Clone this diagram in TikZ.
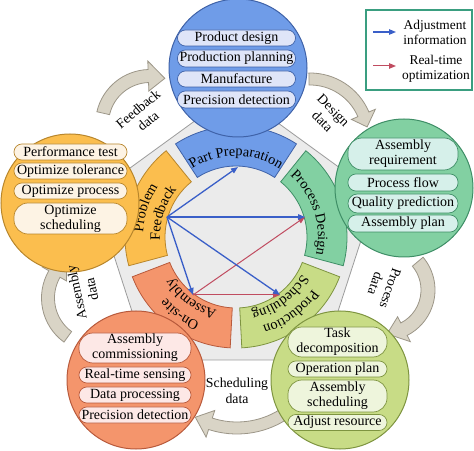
\documentclass[tikz,border=0pt]{standalone}
\usepackage{fontspec}
\setmainfont{Liberation Serif}
\usetikzlibrary{arrows.meta,decorations.text}
\definecolor{blueC}{HTML}{6F9CE8}
\definecolor{blueD}{HTML}{3F62A8}
\definecolor{blueP}{HTML}{DFE5F8}
\definecolor{greenC}{HTML}{82D0A2}
\definecolor{greenD}{HTML}{3E8E66}
\definecolor{greenP}{HTML}{D6F0EA}
\definecolor{ygC}{HTML}{C8DC86}
\definecolor{ygD}{HTML}{7E9440}
\definecolor{ygP}{HTML}{EEF5DC}
\definecolor{orC}{HTML}{F4956C}
\definecolor{orD}{HTML}{B85A3C}
\definecolor{orP}{HTML}{FDE8E6}
\definecolor{yeC}{HTML}{FBBE4E}
\definecolor{yeD}{HTML}{B8862C}
\definecolor{yeP}{HTML}{FDF3E4}
\definecolor{grayF}{HTML}{EBEBEB}
\definecolor{grayD}{HTML}{9C9C9C}
\definecolor{arrF}{HTML}{D9D4C6}
\definecolor{arrD}{HTML}{9C9688}
\definecolor{legD}{HTML}{3A9E80}
\definecolor{blueA}{HTML}{3A5FC8}
\definecolor{redA}{HTML}{C04C60}
\newcommand{\segfont}{\fontsize{14.3}{14.3}\selectfont}
\newcommand{\pillfont}{\fontsize{14}{15}\selectfont}
% #1 center, #2 R, #3 start, #4 head base, #5 tip, #6 half body, #7 half head
\newcommand{\myCurvArrow}[7]{%
  \filldraw[blockarr, shift={(#1)}] (#3:{#2+#6}) arc[start angle=#3, end angle=#4, radius={(#2+#6)*1pt}]
    -- (#4:{#2+#7}) -- (#5:#2) -- (#4:{#2-#7}) -- (#4:{#2-#6})
    arc[start angle=#4, end angle=#3, radius={(#2-#6)*1pt}] -- cycle;}
\newcommand{\mySeg}[3]{%
  \filldraw[fill=#3C, draw=#3D, line width=0.8pt, shift={(236,213)}]
    (#1:71) arc[start angle=#1, end angle=#2, radius=71pt] -- (#2:111)
    arc[start angle=#2, end angle=#1, radius=111pt] -- cycle;}
\newcommand{\mySegText}[4]{%
  \path[shift={(236,213)}, decorate, decoration={text along path, text align=center, text={|\segfont|#4}}]
    (#1:#3) arc[start angle=#1, end angle=#2, radius=#3pt];}
\begin{document}
\begin{tikzpicture}[x=1pt,y=1pt,
  blockarr/.style={fill=arrF, draw=arrD, line width=0.8pt},
  bigcirc/.style={circle, inner sep=0pt, minimum size=138pt, line width=1pt},
  pill/.style={rectangle, inner xsep=0pt, inner ysep=1pt, align=center, font=\pillfont, line width=0.7pt, rounded corners=7.9pt, minimum height=16pt},
  pilltwo/.style={pill, rounded corners=14pt},
  lbl/.style={align=center, font=\fontsize{13.8}{15.5}\selectfont, inner sep=0pt},
  legtxt/.style={align=center, font=\fontsize{13.4}{15}\selectfont, inner sep=0pt},
  bluearr/.style={draw=blueA, line width=1.3pt, -{Triangle[length=7pt,width=5.5pt]}},
  redarr/.style={draw=redA, line width=1pt, -{Triangle[length=7pt,width=5.5pt]}}]
\fill[white] (0,0) rectangle (474,450);
\useasboundingbox (0,0) rectangle (474,450);

% curved block arrows
\myCurvArrow{150,326}{48}{167}{92}{72}{6.5}{15}
\myCurvArrow{310,313}{58}{91}{23}{10}{6}{13}
\myCurvArrow{384,160}{44}{40}{-63}{-86}{7}{14}
\myCurvArrow{237,108}{86}{-58}{-108}{-119}{6}{14}
\myCurvArrow{96,152}{48}{234}{150}{128}{6.5}{14}

% pentagon
\filldraw[fill=grayF, draw=grayD, line width=0.8pt] (235,358.3) -- (94,255.8) -- (147.8,90) -- (322.2,90) -- (376,255.8) -- cycle;

% ring segments
\mySeg{57}{123}{blue}
\mySeg{-15}{51}{green}
\mySeg{-87}{-21}{yg}
\mySeg{-159}{-93}{or}
\mySeg{129}{195}{ye}

\mySegText{123}{57}{81}{Part Preparation}
\mySegText{51}{-15}{82}{Process Design}
\mySegText{-21}{-87}{93}{Production}
\mySegText{-21}{-87}{76}{Scheduling}
\mySegText{-93}{-159}{93}{On-site}
\mySegText{-93}{-159}{76}{Assembly}
\mySegText{195}{129}{93}{Problem}
\mySegText{195}{129}{76}{Feedback}

% central arrows
\coordinate (pf) at (167,233);
\coordinate (pp) at (238,283);
\coordinate (pd) at (305,233);
\coordinate (ps) at (280,155);
\coordinate (os) at (193,155);
\draw[redarr] (os) -- (pd);
\draw[redarr] (os) -- (ps);
\draw[bluearr] (pf) -- (pp);
\draw[bluearr] (pf) -- (pd);
\draw[bluearr] (pf) -- (ps);
\draw[bluearr] (pf) -- (os);

% circles
\node[bigcirc, fill=blueC, draw=blueD] (cblue) at (238,382) {};
\node[bigcirc, fill=greenC, draw=greenD] (cgreen) at (404,262) {};
\node[bigcirc, fill=ygC, draw=ygD] (cyg) at (340,70) {};
\node[bigcirc, fill=orC, draw=orD] (cor) at (136,70) {};
\node[bigcirc, fill=yeC, draw=yeD] (cye) at (70,247) {};

% blue pills
\begin{scope}[every node/.append style={fill=blueP, draw=blueD, minimum width=118pt}]
\node[pill] (bp1) at (236.5,412) {Product design};
\node[pill, minimum height=17pt] (bp2) at (236.5,391.5) {Production planning};
\node[pill] (bp3) at (236.5,371) {Manufacture};
\node[pill, minimum height=17pt] (bp4) at (236.5,350.5) {Precision detection};
\end{scope}
% green pills
\begin{scope}[every node/.append style={fill=greenP, draw=greenD, minimum width=110pt}]
\node[pilltwo, minimum height=32pt] (gp1) at (403,296) {Assembly\\requirement};
\node[pill, minimum height=17pt] (gp2) at (403,267.5) {Process flow};
\node[pill, minimum height=19pt, rounded corners=9.4pt] (gp3) at (403,246.5) {Quality prediction};
\node[pill, minimum height=17pt] (gp4) at (403,226.5) {Assembly plan};
\end{scope}
% yellow-green pills
\begin{scope}[every node/.append style={fill=ygP, draw=ygD, minimum width=99pt}]
\node[pilltwo, minimum height=30pt] (yp1) at (337.5,108) {Task\\decomposition};
\node[pill] (yp2) at (337.5,81) {Operation plan};
\node[pilltwo, minimum height=32pt] (yp3) at (337.5,54) {Assembly\\scheduling};
\node[pill] (yp4) at (337.5,27.5) {Adjust resource};
\end{scope}
% orange pills
\begin{scope}[every node/.append style={fill=orP, draw=orD, minimum width=112pt}]
\node[pilltwo, minimum height=30pt] (op1) at (135,102) {Assembly\\commissioning};
\node[pill] (op2) at (135,75) {Real-time sensing};
\node[pill] (op3) at (135,55) {Data processing};
\node[pill] (op4) at (135,35) {Precision detection};
\end{scope}
% yellow pills
\begin{scope}[every node/.append style={fill=yeP, draw=yeD, minimum width=113pt}]
\node[pill] (ep1) at (70.5,298) {Performance test};
\node[pill] (ep2) at (70.5,279) {Optimize tolerance};
\node[pill] (ep3) at (70.5,259) {Optimize process};
\node[pilltwo, minimum height=31pt] (ep4) at (70.5,231.5) {Optimize\\scheduling};
\end{scope}

% arrow labels
\node[lbl, rotate=40] (lfb) at (143,335) {Feedback\\data};
\node[lbl, rotate=-45] (lds) at (328,334) {Design\\data};
\node[lbl, rotate=-109] (lpr) at (383,164) {Process\\data};
\node[lbl] (lsc) at (237,59) {Scheduling\\data};
\node[lbl, rotate=102] (las) at (84,159) {Assembly\\data};

% legend
\node[draw=legD, line width=1.2pt, minimum width=106pt, minimum height=80pt, inner sep=0pt] (legend) at (419,400) {};
\coordinate (la1) at (373,418);
\coordinate (la2) at (396,418);
\coordinate (lb1) at (373,384);
\coordinate (lb2) at (396,384);
\draw[bluearr, line width=1.1pt] (la1) -- (la2);
\draw[redarr] (lb1) -- (lb2);
\node[legtxt] (lta) at (435,417.5) {Adjustment\\information};
\node[legtxt] (ltb) at (436,381) {Real-time\\optimization};
\end{tikzpicture}
\end{document}
